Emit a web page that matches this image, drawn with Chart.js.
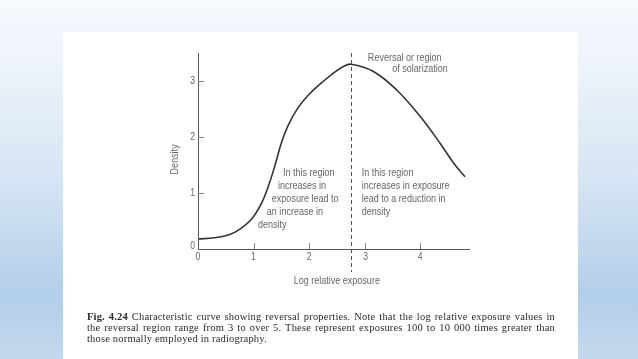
<!DOCTYPE html>
<html>
<head>
<meta charset="utf-8">
<script src="https://cdn.jsdelivr.net/npm/chart.js@4.4.1/dist/chart.umd.min.js"></script>
<style>
    html, body { margin: 0; padding: 0; width: 638px; height: 359px; overflow: hidden; }
    body {
        position: relative;
        background: linear-gradient(to bottom, #f6f9fd 0%, #edf3fa 18%, #d6e5f4 50%, #b3cee9 82%, #c3d8ee 100%);
    }
    #card { position: absolute; left: 63px; top: 32px; width: 515px; height: 327px; background: #fff; }
    #chart { position: absolute; left: 0; top: 0; }
    #caption {
        position: absolute; left: 87px; top: 311px; width: 468px;
        font-family: 'Liberation Serif', 'Times New Roman', serif;
        font-size: 10.5px; line-height: 11px; color: #2b2b2b; letter-spacing: 0.18px;
        text-align: justify; text-align-last: left;
    }
    #caption b { font-weight: bold; }
</style>
</head>
<body>
<div id="card"></div>
<canvas id="chart" width="638" height="359"></canvas>
<div id="caption"><b>Fig. 4.24</b> Characteristic curve showing reversal properties. Note that the log relative exposure values in the reversal region range from 3 to over 5. These represent exposures 100 to 10 000 times greater than those normally employed in radiography.</div>
<script>
// --- datos ---
const logExposure = [0, 0.3, 0.57, 0.75, 0.97, 1.15, 1.26, 1.38, 1.5, 1.62, 1.8, 1.99, 2.23, 2.45, 2.62, 2.76, 3.16, 3.58, 4.0, 4.36, 4.6, 4.81];
const density     = [0.18, 0.2, 0.26, 0.35, 0.54, 0.83, 1.1, 1.47, 1.89, 2.2, 2.52, 2.75, 2.97, 3.15, 3.26, 3.3, 3.17, 2.84, 2.37, 1.89, 1.54, 1.29];
const xTicks = [0, 1, 2, 3, 4];
const yTicks = [0, 1, 2, 3];
const reversalAt = 2.76;

const textColor = '#666';
const squeeze = 0.82; // texto condensado

function narrowText(ctx, text, x, y, align) {
    ctx.save();
    ctx.translate(x, y);
    ctx.scale(squeeze, 1);
    ctx.textAlign = align || 'left';
    ctx.fillText(text, 0, 0);
    ctx.restore();
}

const axesPlugin = {
    id: 'axesPlugin',
    afterDraw(chart) {
        const { ctx, chartArea, scales } = chart;
        const xs = scales.x, ys = scales.y;
        const x0 = xs.getPixelForValue(0);
        const y0 = ys.getPixelForValue(0);

        ctx.save();
        // ejes
        ctx.strokeStyle = '#555';
        ctx.lineWidth = 1;
        ctx.beginPath();
        ctx.moveTo(x0 + 0.5, chartArea.top);
        ctx.lineTo(x0 + 0.5, y0 + 0.5);
        ctx.lineTo(chartArea.right, y0 + 0.5);
        ctx.stroke();

        // marcas
        ctx.strokeStyle = '#888';
        ctx.beginPath();
        xTicks.slice(1).forEach(v => {
            const px = Math.round(xs.getPixelForValue(v)) + 0.5;
            ctx.moveTo(px, y0);
            ctx.lineTo(px, y0 - 6);
        });
        yTicks.slice(1).forEach(v => {
            const py = Math.round(ys.getPixelForValue(v)) + 0.5;
            ctx.moveTo(x0, py);
            ctx.lineTo(x0 + 6, py);
        });
        ctx.stroke();

        // etiquetas
        ctx.fillStyle = textColor;
        ctx.font = '10.5px "Liberation Sans", Arial, sans-serif';
        ctx.textBaseline = 'middle';
        xTicks.forEach(v => {
            const px = xs.getPixelForValue(v);
            narrowText(ctx, String(v), v === 3 ? px + 1 : px, y0 + 8, 'center');
        });
        yTicks.forEach(v => {
            const py = ys.getPixelForValue(v);
            narrowText(ctx, String(v), x0 - 3, v === 0 ? py - 3 : py, 'right');
        });

        // línea discontinua
        const rx = Math.round(xs.getPixelForValue(reversalAt)) + 0.5;
        ctx.strokeStyle = '#555';
        ctx.setLineDash([4, 3]);
        ctx.beginPath();
        ctx.moveTo(rx, chartArea.top);
        ctx.lineTo(rx, y0 + 23);
        ctx.stroke();
        ctx.setLineDash([]);

        // títulos de ejes
        ctx.font = '11px "Liberation Sans", Arial, sans-serif';
        narrowText(ctx, 'Log relative exposure', xs.getPixelForValue(2.5), y0 + 32, 'center');
        ctx.save();
        ctx.translate(x0 - 23, ys.getPixelForValue(1.6));
        ctx.rotate(-Math.PI / 2);
        narrowText(ctx, 'Density', 0, 0, 'center');
        ctx.restore();

        // notas
        ctx.font = '11px "Liberation Sans", Arial, sans-serif';
        const notes = [
            ['Reversal or region', 3.06, 3.42, 'left'],
            ['of solarization', 4.5, 3.21, 'right'],
            ['In this region', 1.53, 1.36, 'left'],
            ['increases in', 1.44, 1.13, 'left'],
            ['exposure lead to', 1.33, 0.90, 'left'],
            ['an increase in', 1.24, 0.66, 'left'],
            ['density', 1.08, 0.43, 'left'],
            ['In this region', 2.95, 1.36, 'left'],
            ['increases in exposure', 2.95, 1.13, 'left'],
            ['lead to a reduction in', 2.95, 0.90, 'left'],
            ['density', 2.95, 0.66, 'left']
        ];
        notes.forEach(([t, vx, vy, al]) => {
            narrowText(ctx, t, xs.getPixelForValue(vx), ys.getPixelForValue(vy), al);
        });
        ctx.restore();
    }
};

new Chart(document.getElementById('chart'), {
    type: 'scatter',
    data: {
        datasets: [{
            data: logExposure.map((x, i) => ({ x, y: density[i] })),
            showLine: true,
            borderColor: '#333',
            borderWidth: 1.6,
            pointRadius: 0,
            tension: 0.4,
            fill: false
        }]
    },
    options: {
        responsive: false,
        animation: false,
        layout: { padding: { left: 198, right: 168, top: 53, bottom: 110 } },
        plugins: { legend: { display: false }, tooltip: { enabled: false } },
        scales: {
            x: { type: 'linear', min: 0, max: 4.9, display: false },
            y: { type: 'linear', min: 0, max: 3.5, display: false }
        }
    },
    plugins: [axesPlugin]
});
</script>
</body>
</html>
